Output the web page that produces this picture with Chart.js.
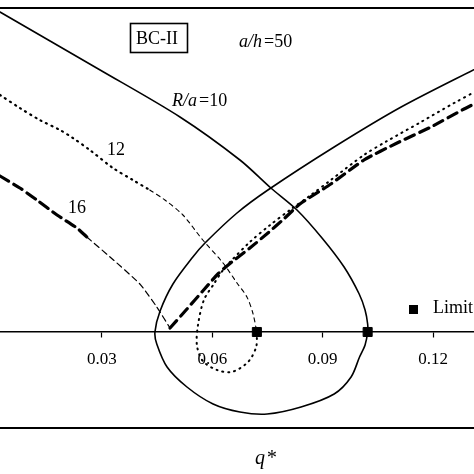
<!DOCTYPE html>
<html>
<head>
<meta charset="utf-8">
<script src="https://cdn.jsdelivr.net/npm/chart.js@4/dist/chart.umd.min.js"></script>
<style>
  html, body { margin: 0; padding: 0; background: #fff; }
  #wrap { width: 474px; height: 474px; }
</style>
</head>
<body>
<div id="wrap"><canvas id="chart"></canvas></div>
<script>
/* global document, Chart */

// x = q*, y = response (arbitrary units, zero on the axis line)
const xTicks = [0.03, 0.06, 0.09, 0.12];

// R/a = 10 (solid, with the loop below the axis)
const curve10 = [
    [0.0023, 3.20], [0.0295, 2.62], [0.0512, 2.15], [0.0675, 1.72], [0.0759, 1.44],
    [0.0830, 1.22], [0.0898, 0.94], [0.0958, 0.65], [0.0999, 0.38], [0.1015, 0.22],
    [0.1022, 0.08], [0.1022, 0.00], [0.1015, -0.13], [0.1000, -0.25], [0.0977, -0.45],
    [0.0931, -0.62], [0.0841, -0.75], [0.0749, -0.82], [0.0675, -0.80], [0.0602, -0.72],
    [0.0531, -0.55], [0.0477, -0.35], [0.0449, -0.12], [0.0444, 0.00], [0.0458, 0.21],
    [0.0493, 0.48], [0.0547, 0.75], [0.0580, 0.89], [0.0667, 1.19], [0.0751, 1.42],
    [0.0931, 1.85], [0.1113, 2.25], [0.1330, 2.66]
];

// R/a = 12 (dotted, thin dashed near the limit point)
const curve12Dots = [
    [0.0023, 2.37], [0.0077, 2.24], [0.0131, 2.12], [0.0186, 2.02], [0.0221, 1.94],
    [0.0267, 1.82], [0.0330, 1.64], [0.0384, 1.52], [0.0430, 1.42]
];
const curve12Thin = [
    [0.0430, 1.42], [0.0471, 1.32], [0.0520, 1.17], [0.0574, 0.92], [0.0629, 0.69],
    [0.0667, 0.49], [0.0694, 0.35], [0.0710, 0.19], [0.0721, 0.00]
];
const curve12Loop = [
    [0.0721, 0.00], [0.0719, -0.15], [0.0697, -0.30], [0.0653, -0.40], [0.0613, -0.38],
    [0.0574, -0.29], [0.0558, -0.13], [0.0561, 0.07], [0.0577, 0.32], [0.0604, 0.48],
    [0.0629, 0.62], [0.0648, 0.70], [0.0702, 0.90], [0.0757, 1.07], [0.0811, 1.22],
    [0.0868, 1.37], [0.0922, 1.52], [0.1012, 1.77], [0.1075, 1.91], [0.1167, 2.10],
    [0.1257, 2.29], [0.1328, 2.43]
];

// R/a = 16 (thick dashed, thin dashed into the cusp)
const curve16Head = [
    [0.0023, 1.56], [0.0077, 1.44], [0.0123, 1.32], [0.0178, 1.17], [0.0232, 1.04],
    [0.0259, 0.95]
];
const curve16Thin = [
    [0.0259, 0.95], [0.0322, 0.75], [0.0403, 0.48], [0.0449, 0.25], [0.0485, 0.04]
];
const curve16Tail = [
    [0.0485, 0.04], [0.0531, 0.23], [0.0574, 0.41], [0.0615, 0.58], [0.0653, 0.70],
    [0.0702, 0.84], [0.0751, 0.99], [0.0797, 1.14], [0.0838, 1.28], [0.0922, 1.48],
    [0.1012, 1.72], [0.1102, 1.89], [0.1194, 2.05], [0.1284, 2.23], [0.1328, 2.31]
];

const limitPoints = [[0.0721, 0.0], [0.1022, 0.0]];

const pts = arr => arr.map(p => ({ x: p[0], y: p[1] }));

function lineSet(data, width, dash, tension) {
    return {
        data: pts(data),
        showLine: true,
        borderColor: '#000',
        borderWidth: width,
        borderDash: dash,
        borderCapStyle: 'round',
        pointRadius: 0,
        tension: tension,
        fill: false
    };
}

const serif = '"Liberation Serif", "DejaVu Serif", serif';

// write pieces of text side by side, some in italics
function drawParts(ctx, x, y, parts, size) {
    for (let i = 0; i < parts.length; i++) {
        let part = parts[i];
        ctx.font = (part[1] ? 'italic ' : '') + size + 'px ' + serif;
        ctx.fillText(part[0], x, y);
        x += ctx.measureText(part[0]).width + (part[2] || 0);
    }
}

const decor = {
    id: 'decor',
    afterDraw(chart) {
        let ctx = chart.ctx;
        let area = chart.chartArea;
        ctx.save();
        ctx.strokeStyle = '#000';
        ctx.fillStyle = '#000';

        // frame lines top and bottom
        ctx.lineWidth = 2;
        ctx.beginPath();
        ctx.moveTo(0, area.top);
        ctx.lineTo(chart.width, area.top);
        ctx.moveTo(0, area.bottom);
        ctx.lineTo(chart.width, area.bottom);
        ctx.stroke();

        ctx.textBaseline = 'alphabetic';
        ctx.textAlign = 'left';

        // BC-II box
        ctx.lineWidth = 1.6;
        ctx.strokeRect(130.5, 23.5, 57, 29);
        drawParts(ctx, 136, 44, [['BC-II', false]], 18);

        drawParts(ctx, 239, 47, [['a/h', true, 2], ['=50', false]], 18);
        drawParts(ctx, 172, 106, [['R/a', true, 2], ['=10', false]], 18);
        drawParts(ctx, 107, 155, [['12', false]], 18);
        drawParts(ctx, 68, 213, [['16', false]], 18);

        // legend entry
        ctx.fillRect(409, 305, 9, 9);
        drawParts(ctx, 433, 313, [['Limit', false]], 18);

        // axis title
        drawParts(ctx, 255, 464, [['q', true, 1], ['*', true]], 20);
        ctx.restore();
    }
};

new Chart(document.getElementById('chart'), {
    type: 'scatter',
    data: {
        datasets: [
            lineSet(curve10, 1.6, [], 0.3),
            lineSet(curve12Dots, 2.2, [1, 5], 0.3),
            lineSet(curve12Thin, 1.1, [4, 4], 0.3),
            lineSet(curve12Loop, 2.0, [1, 5], 0.3),
            lineSet(curve16Head, 3.2, [10, 6], 0.2),
            lineSet(curve16Thin, 1.2, [6, 4], 0.2),
            lineSet(curve16Tail, 3.2, [10, 6], 0.2),
            {
                data: pts(limitPoints),
                pointStyle: 'rect',
                pointRadius: 6.4,
                backgroundColor: '#000',
                borderColor: '#000',
                showLine: false
            }
        ]
    },
    options: {
        responsive: true,
        maintainAspectRatio: false,
        animation: false,
        layout: { autoPadding: false, padding: { top: 8, bottom: 46, left: 0, right: 0 } },
        plugins: {
            legend: { display: false },
            tooltip: { enabled: false }
        },
        scales: {
            x: {
                type: 'linear',
                min: 0.0023,
                max: 0.1311,
                position: { y: 0 },
                afterBuildTicks: axis => {
                    axis.ticks = xTicks.map(v => ({ value: v }));
                },
                border: { display: true, color: '#000', width: 1.5 },
                grid: { drawOnChartArea: false, drawTicks: true, tickLength: 5, color: '#000', tickWidth: 1.2 },
                ticks: {
                    color: '#000',
                    padding: 12,
                    font: { family: serif, size: 17 },
                    callback: v => v.toFixed(2)
                }
            },
            y: {
                type: 'linear',
                min: -0.96,
                max: 3.24,
                display: false
            }
        }
    },
    plugins: [decor]
});
</script>
</body>
</html>
